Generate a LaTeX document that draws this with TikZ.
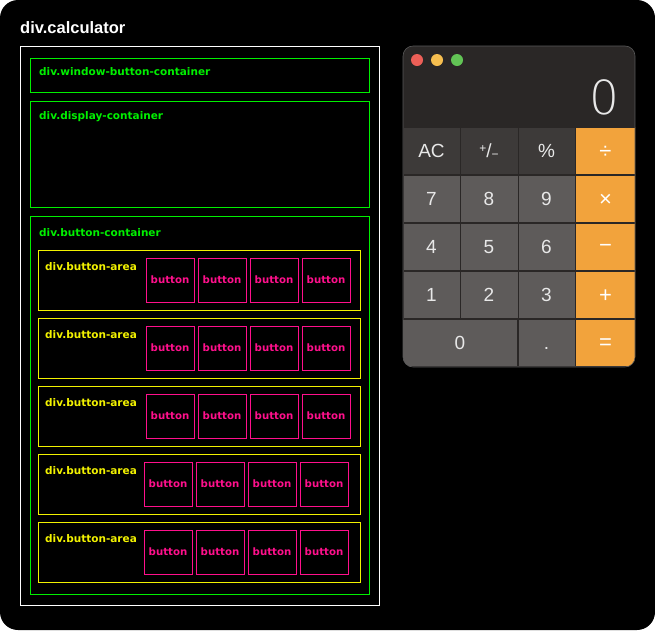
\documentclass[tikz,border=0pt]{standalone}
\usepackage{fontspec}
\setmainfont{Liberation Sans}
\newfontfamily\thinfont{DejaVu Sans ExtraLight}
\newfontfamily\labelfont{DejaVu Sans}
\definecolor{divgreen}{HTML}{00F000}
\definecolor{divyellow}{HTML}{F2F200}
\definecolor{btnpink}{HTML}{FF108C}
\definecolor{calcbg}{HTML}{2A2726}
\definecolor{keyfn}{HTML}{3D3A39}
\definecolor{keynum}{HTML}{5E5B5A}
\definecolor{keyop}{HTML}{F2A33C}
\definecolor{keytext}{HTML}{E8E8E8}
\newcommand{\pmkey}{\raisebox{5pt}{\fontsize{12}{12}\selectfont+}/\raisebox{-1pt}{\fontsize{12}{12}\selectfont\textminus}}
\begin{document}
\begin{tikzpicture}[x=1pt,y=-1pt,
  boxlabel/.style={anchor=base west,inner sep=0pt,font=\labelfont\bfseries\fontsize{10.5}{13}\selectfont},
  btnbox/.style={draw=btnpink,line width=1pt,minimum width=48,minimum height=44,inner sep=0pt,
    text=btnpink,font=\labelfont\bfseries\fontsize{10.2}{13}\selectfont},
  calckey/.style={draw=calcbg,line width=1pt,minimum height=47.5,inner sep=0pt,
    text height=13.6,text depth=0,text=keytext,font=\fontsize{19}{19}\selectfont},
  opkey/.style={draw=calcbg,line width=1pt,minimum height=47.5,inner sep=0pt,fill=keyop},
  light/.style={circle,inner sep=0pt,minimum size=12}]
\useasboundingbox (0,0) rectangle (655,630);
\fill[white] (0,0) rectangle (655,630);
\fill[black,rounded corners=18] (0,0) rectangle (655,630);

% html structure
\node[anchor=base west,inner sep=0pt,text=white,font=\bfseries\fontsize{16.5}{18}\selectfont] (calc) at (20,33) {div.calculator};
\draw[white,line width=1pt] (20,46) rectangle (379,605);
\draw[divgreen,line width=1pt] (30,58) rectangle (369,92);
\node[boxlabel,text=divgreen] (wbc) at (39,75) {div.window-button-container};
\draw[divgreen,line width=1pt] (30,101) rectangle (369,207);
\node[boxlabel,text=divgreen] (dc) at (39,119.5) {div.display-container};
\draw[divgreen,line width=1pt] (30,216) rectangle (369,594);
\node[boxlabel,text=divgreen] (bc) at (39,236) {div.button-container};
\foreach \r/\top/\xs in {1/250/146,2/318/146,3/386/146,4/454/144,5/522/144}{
  \draw[divyellow,line width=1pt] (38,\top) rectangle (360,\top+60);
  \node[boxlabel,text=divyellow] (area\r) at (45,\top+20) {div.button-area};
  \foreach \c in {0,...,3}
    \node[btnbox] (btn\r\c) at (\xs+24+52*\c,\top+30) {button};
}

% calculator
\begin{scope}
\clip[rounded corners=10] (403,46) rectangle (635,367);
\fill[calcbg] (403,46) rectangle (635,127);
\foreach \name/\lab/\cx/\w/\kc [count=\i] in {
  kac/AC/431.5/57/keyfn, kpm/\pmkey/489/58/keyfn, kpc/\%/546.5/57/keyfn,
  k7/7/431.5/57/keynum, k8/8/489/58/keynum, k9/9/546.5/57/keynum,
  k4/4/431.5/57/keynum, k5/5/489/58/keynum, k6/6/546.5/57/keynum,
  k1/1/431.5/57/keynum, k2/2/489/58/keynum, k3/3/546.5/57/keynum}
  \node[calckey,fill=\kc,minimum width=\w] (\name) at (\cx,{150.75+48*int((\i-1)/3)}) {\lab};
\node[calckey,fill=keynum,minimum width=115] (k0) at (460,342.75) {0};
\node[calckey,fill=keynum,minimum width=57] (kdot) at (546.5,342.75) {.};
\foreach \name/\lab [count=\i] in {kdiv/÷,kmul/×,ksub/\textminus,kadd/+,keq/=}
  \node[opkey,minimum width=60] (\name) at (605.5,{150.75+48*(\i-1)}) {};
\foreach \name/\lab [count=\i] in {kdiv/÷,kmul/×,ksub/\textminus,kadd/+,keq/=}
  \node[text=white,font=\fontsize{22}{22}\selectfont,inner sep=0pt] (\name txt) at ([yshift=-1.5]\name.center) {\lab};
\end{scope}
\draw[gray!70!black,line width=0.6pt,rounded corners=10] (403,46) rectangle (635,367);
\node[light,fill={rgb,255:red,236;green,95;blue,87}] (close) at (417,60) {};
\node[light,fill={rgb,255:red,246;green,190;blue,79}] (mini) at (437,60) {};
\node[light,fill={rgb,255:red,98;green,196;blue,85}] (zoom) at (457,60) {};
\node[anchor=base east,inner sep=0pt,text=keytext,font=\thinfont\fontsize{47}{47}\selectfont] (disp) at (620,114) {0};

\end{tikzpicture}
\end{document}
